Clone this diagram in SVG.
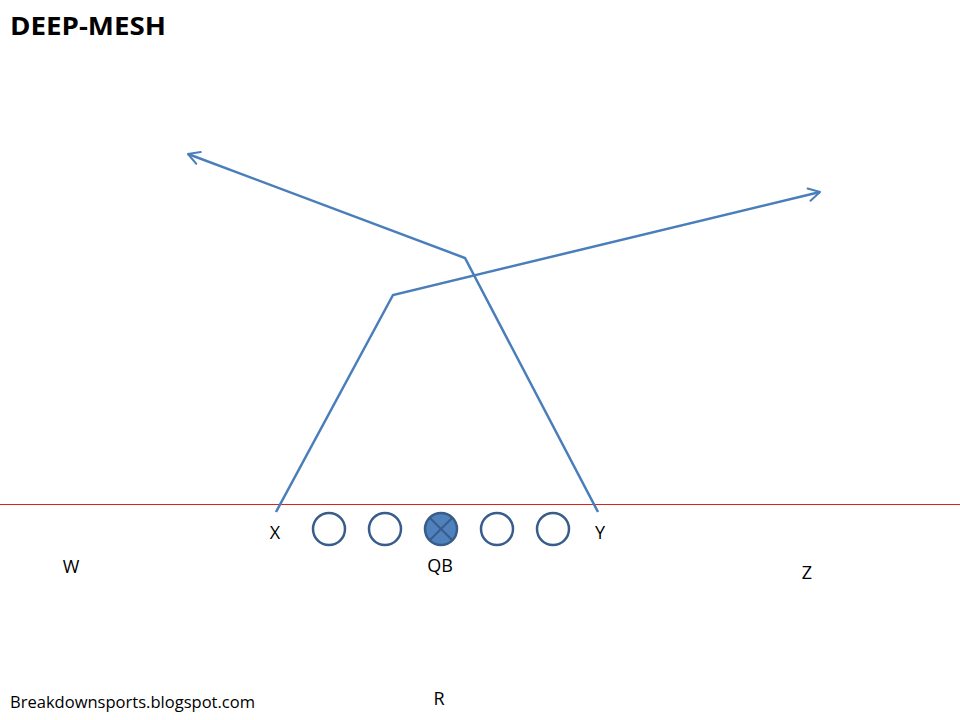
<svg xmlns="http://www.w3.org/2000/svg" width="960" height="720" viewBox="0 0 960 720">
<defs>
<marker id="arr" viewBox="0 0 12 12" refX="10" refY="6" markerWidth="6" markerHeight="6" markerUnits="strokeWidth" orient="auto">
<path d="M1,1 L10,6 L1,11" fill="none" stroke="#4a7ebb" stroke-width="1.6" stroke-linecap="round" stroke-linejoin="round"/>
</marker>
<style>
.lbl{font-family:"Open Sans","Liberation Sans",sans-serif;font-size:18px;fill:#000;text-anchor:middle}
.route{fill:none;stroke:#4a7ebb;stroke-width:2.5;stroke-linejoin:miter}
.ol{fill:#fff;stroke:#385d8a;stroke-width:2.5}
</style>
</defs>
<rect width="960" height="720" fill="#fff"/>
<text x="10" y="35" font-family="'Open Sans','Liberation Sans',sans-serif" font-size="25" font-weight="bold" textLength="156" lengthAdjust="spacingAndGlyphs">DEEP-MESH</text>
<line x1="0" y1="504.5" x2="960" y2="504.5" stroke="#e02020" stroke-width="1"/>
<g id="connectors">
<polyline class="route" points="276,512 393,295 820,192" marker-end="url(#arr)"/>
<polyline class="route" points="598,512 465,258 188,154" marker-end="url(#arr)"/>
</g>
<g id="ol1"><circle class="ol" cx="329" cy="529" r="16"/></g>
<g id="ol2"><circle class="ol" cx="385" cy="529" r="16"/></g>
<g id="qb-center"><circle cx="441" cy="529" r="16" fill="#4f81bd" stroke="#385d8a" stroke-width="2.5"/>
<line x1="429.7" y1="517.7" x2="452.3" y2="540.3" stroke="#385d8a" stroke-width="2"/>
<line x1="452.3" y1="517.7" x2="429.7" y2="540.3" stroke="#385d8a" stroke-width="2"/></g>
<g id="ol4"><circle class="ol" cx="497" cy="529" r="16"/></g>
<g id="ol5"><circle class="ol" cx="553" cy="529" r="16"/></g>
<g id="X"><text class="lbl" x="275" y="539">X</text></g>
<g id="Y"><text class="lbl" x="600" y="539">Y</text></g>
<g id="W"><text class="lbl" x="71" y="573">W</text></g>
<g id="QB"><text class="lbl" x="440" y="572">QB</text></g>
<g id="Z"><text class="lbl" x="807" y="579">Z</text></g>
<g id="R"><text class="lbl" x="439" y="705">R</text></g>
<text x="10" y="708" font-family="'Open Sans','Liberation Sans',sans-serif" font-size="16" textLength="245" lengthAdjust="spacingAndGlyphs">Breakdownsports.blogspot.com</text>
</svg>
